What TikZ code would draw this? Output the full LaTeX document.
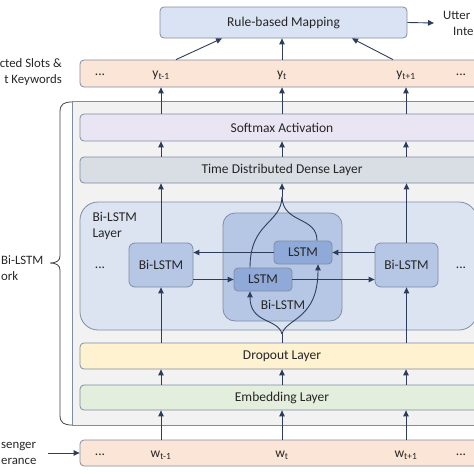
\documentclass[tikz,border=0pt]{standalone}
\usepackage{fontspec}
\setmainfont{Carlito}
\usetikzlibrary{arrows.meta,calc}
\definecolor{edge}{HTML}{7F8DA3}
\definecolor{flow}{HTML}{2E3D5C}
\definecolor{peach}{HTML}{FBE5D6}
\definecolor{mapfill}{HTML}{DAE3F3}
\definecolor{netbg}{HTML}{F2F2F2}
\definecolor{softfill}{HTML}{EAE5F3}
\definecolor{densefill}{HTML}{D9DDE4}
\definecolor{layerfill}{HTML}{DCE4F2}
\definecolor{cellfill}{HTML}{B6C7E5}
\definecolor{lstmfill}{HTML}{8FA9D8}
\definecolor{dropfill}{HTML}{FFF2D0}
\definecolor{embfill}{HTML}{E4EEDC}

\tikzset{
  txt/.style={font=\fontsize{13.5}{16}\selectfont,text=black!85},
  side/.style={font=\fontsize{12.8}{16}\selectfont,text=black!85,inner xsep=0pt},
  bar/.style={txt,draw=edge,line width=0.8pt,rounded corners=4pt,minimum width=404pt,minimum height=26pt,inner sep=0pt},
  cellbox/.style={txt,draw=edge,line width=0.8pt,fill=cellfill,rounded corners=6pt,inner sep=0pt},
  lstmbox/.style={txt,draw=edge,line width=0.8pt,fill=lstmfill,rounded corners=4pt,minimum width=58pt,minimum height=23pt,inner sep=0pt},
  flow/.style={draw=flow,line width=0.9pt,-{Triangle[length=6pt,width=5.5pt]}},
  wire/.style={draw=flow,line width=0.9pt},
}

\begin{document}
\begin{tikzpicture}[x=1pt,y=-1pt]
  \useasboundingbox (0,0) rectangle (474,474);
  % network background and brace
  \fill[netbg] (72,101) rectangle (490,425);
  \draw[edge,line width=0.8pt] (490,101) -- (72,101) -- (72,425) -- (490,425);
  \draw[black!75,line width=0.8pt] (72,102) .. controls (64,102) and (60,104) .. (60,112) -- (60,256)
    .. controls (60,261) and (56,263) .. (50,263) .. controls (56,263) and (60,265) .. (60,270)
    -- (60,415) .. controls (60,423) and (64,425) .. (72,425);

  % top rows
  \node[bar,fill=mapfill,minimum width=247pt,minimum height=31pt] (map) at (283.5,22.5) {Rule-based Mapping};
  \node[bar,fill=peach,minimum height=27pt] (outrow) at (282,73.5) {};
  \node[txt] (ydots1) at (100,75) {...};
  \node[txt] (y1) at (161,75) {y\textsubscript{t-1}};
  \node[txt] (y2) at (282,75) {y\textsubscript{t}};
  \node[txt] (y3) at (406,75) {y\textsubscript{t+1}};
  \node[txt] (ydots2) at (461,75) {...};

  % layers
  \node[bar,fill=softfill,minimum height=27pt] (soft) at (282,127.5) {Softmax Activation};
  \node[bar,fill=densefill] (dense) at (282,170) {Time Distributed Dense Layer};
  \node[bar,fill=layerfill,rounded corners=18pt,minimum width=397pt,minimum height=128pt] (bilayer) at (278.5,266) {};
  \node[txt,align=left,anchor=west] (bilabel) at (89,226) {Bi-LSTM\\Layer};
  \node[bar,fill=dropfill] (drop) at (282,356) {Dropout Layer};
  \node[bar,fill=embfill,minimum height=25pt] (emb) at (282,397.5) {Embedding Layer};
  \node[bar,fill=peach,minimum height=26pt] (inrow) at (282,453) {};
  \node[txt] (wdots1) at (100,455) {...};
  \node[txt] (w1) at (161,455) {w\textsubscript{t-1}};
  \node[txt] (w2) at (282,455) {w\textsubscript{t}};
  \node[txt] (w3) at (406,455) {w\textsubscript{t+1}};
  \node[txt] (wdots2) at (461,455) {...};

  % Bi-LSTM cells
  \node[cellbox,minimum width=64pt,minimum height=44pt] (cellL) at (161,265) {Bi-LSTM};
  \node[cellbox,minimum width=63pt,minimum height=44pt] (cellR) at (406.5,265) {Bi-LSTM};
  \node[txt] (ldots) at (100,268) {...};
  \node[txt] (rdots) at (461,268) {...};
  \node[cellbox,rounded corners=12pt,minimum width=119pt,minimum height=108pt] (cellC) at (282.5,267) {};
  \node[txt] (cname) at (283,305) {Bi-LSTM};
  \node[lstmbox] (back) at (303,252.5) {LSTM};
  \node[lstmbox] (fwd) at (263,279.5) {LSTM};

  % side labels
  \node[side,align=right,anchor=east] (outlabel) at (62,72.5) {cted Slots \&\\t Keywords};
  \node[side,align=left,anchor=west] (netlabel) at (1,268.5) {Bi-LSTM\\ork};
  \node[side,align=left,anchor=west] (inlabel) at (1,453.5) {senger\\erance};
  \node[side,align=left,anchor=west] (intlabel) at (443,23.5) {Utter\\\hspace*{10pt}Inte};
  \coordinate (inend) at (48,453);
  \coordinate (mapend) at (434,23);

  % connectors
  \draw[flow] (inend) -- (inrow.west);
  \draw[flow] (map.east) -- (mapend);
  \draw[flow] ($(outrow.north)+(-106,0)$) -- ($(map.south)+(-61.5,0)$);
  \draw[flow] (outrow.north) -- (outrow.north |- map.south);
  \draw[flow] ($(outrow.north)+(111,0)$) -- ($(map.south)+(68.5,0)$);
  \foreach \n in {y1,y2,y3} {
    \draw[flow] (\n |- soft.north) -- (\n |- outrow.south);
    \draw[flow] (\n |- dense.north) -- (\n |- soft.south);
    \draw[flow] (\n |- emb.north) -- (\n |- drop.south);
    \draw[flow] (\n |- inrow.north) -- (\n |- emb.south);
  }
  \draw[flow] (cellL.north) -- (cellL |- dense.south);
  \draw[flow] (cellR.north) -- (cellR |- dense.south);
  \draw[flow] (cellL |- drop.north) -- (cellL.south);
  \draw[flow] (cellR |- drop.north) -- (cellR.south);
  \draw[flow] (back.west) -- (back.west -| cellL.east);
  \draw[flow] (fwd.east -| cellL.east) -- (fwd.west);
  \draw[flow] (fwd.east) -- (fwd.east -| cellR.west);
  \draw[flow] (back.east -| cellR.west) -- (back.east);
  % split into the centre cell
  \coordinate (split) at (282,334);
  \coordinate (merge) at (282,197);
  \draw[wire] (drop.north) -- (split);
  \draw[flow] (split) .. controls (278,318) and (250,324) .. ($(fwd.south)+(-13,0)$);
  \draw[flow] (split) .. controls (286,318) and (318,320) .. ($(back.south)+(15,0)$);
  \draw[wire] ($(fwd.north)+(-13,0)$) .. controls (250,222) and (281,224) .. (merge);
  \draw[wire] ($(back.north)+(14,0)$) .. controls (317,216) and (283,224) .. (merge);
  \draw[flow] (merge) -- (merge |- dense.south);
\end{tikzpicture}
\end{document}
